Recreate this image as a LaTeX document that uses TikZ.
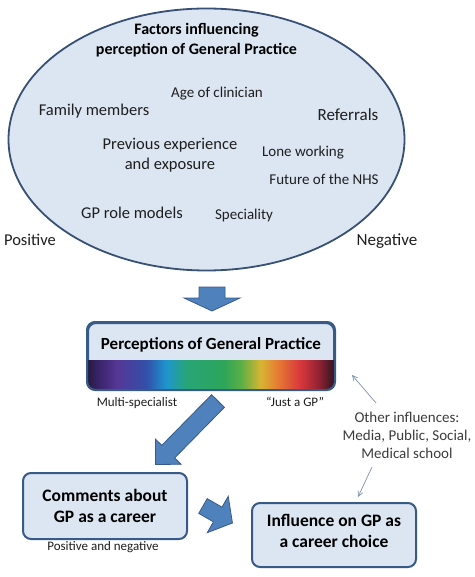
\documentclass[tikz,border=0pt]{standalone}
\usepackage{fontspec}
\setmainfont{Carlito}
\usetikzlibrary{arrows.meta,shapes.geometric}
\definecolor{fillblue}{RGB}{220,230,242}
\definecolor{edgeblue}{RGB}{56,90,135}
\definecolor{ellipseedge}{RGB}{55,80,115}
\definecolor{arrowblue}{RGB}{79,129,189}
\definecolor{txt}{RGB}{30,30,30}
\definecolor{thinline}{RGB}{125,145,175}
\definecolor{greytxt}{RGB}{60,60,60}
\pgfdeclarehorizontalshading{spectrum}{100bp}{%
  color(0bp)=(rgb,255:red,35;green,25;blue,60);
  color(25bp)=(rgb,255:red,35;green,25;blue,60);
  color(27bp)=(rgb,255:red,55;green,35;blue,100);
  color(31bp)=(rgb,255:red,85;green,55;blue,150);
  color(37bp)=(rgb,255:red,50;green,80;blue,170);
  color(41bp)=(rgb,255:red,30;green,150;blue,205);
  color(45bp)=(rgb,255:red,40;green,165;blue,120);
  color(52.5bp)=(rgb,255:red,45;green,165;blue,90);
  color(56bp)=(rgb,255:red,90;green,175;blue,70);
  color(60bp)=(rgb,255:red,215;green,180;blue,50);
  color(63bp)=(rgb,255:red,230;green,130;blue,50);
  color(68bp)=(rgb,255:red,215;green,55;blue,60);
  color(71.5bp)=(rgb,255:red,150;green,35;blue,50);
  color(75bp)=(rgb,255:red,45;green,20;blue,35);
  color(100bp)=(rgb,255:red,45;green,20;blue,35)}
\newcommand\sz[2]{\fontsize{#1}{#2}\selectfont}
\newcommand\blockarrow[6]{% tail, angle, length, shaft width, head width, head length
  \begin{scope}[shift={#1}, rotate=#2]
    \draw[barrow] (0,-#4/2) -- (#3-#6,-#4/2) -- (#3-#6,-#5/2) -- (#3,0)
      -- (#3-#6,#5/2) -- (#3-#6,#4/2) -- (0,#4/2) -- cycle;
  \end{scope}}
\tikzset{
  lbl/.style={inner sep=0pt, text=txt, text height=0.7em, text depth=0.1em},
  mlbl/.style={inner sep=0pt, text=txt, align=center},
  roundbox/.style={draw=edgeblue, line width=2pt, fill=fillblue, rounded corners=8pt, inner sep=0pt},
  barrow/.style={fill=arrowblue, draw=edgeblue, line width=0.8pt, line join=miter},
  thinarrow/.style={draw=thinline, line width=0.7pt, -{Straight Barb[length=5pt,width=5pt]}}
}
\begin{document}
\begin{tikzpicture}[x=1pt,y=-1pt]
\useasboundingbox (0,0) rectangle (474,577);
% ellipse
\node[ellipse, draw=ellipseedge, line width=1.8pt, fill=fillblue, minimum width=396, minimum height=262, inner sep=0pt] (factors) at (206.5,139.5) {};
\node[mlbl, text=black, font=\bfseries\sz{16}{20}] (ftitle) at (196.5,40) {Factors influencing\\perception of General Practice};
\node[lbl, font=\sz{15}{18}] (age) at (217,95) {Age of clinician};
\node[lbl, font=\sz{16.5}{20}] (family) at (94,113) {Family members};
\node[lbl, font=\sz{17}{20}] (referrals) at (348,118) {Referrals};
\node[mlbl, font=\sz{16.5}{20}] (previous) at (170,155) {Previous experience\\and exposure};
\node[lbl, font=\sz{15}{18}] (lone) at (303,154) {Lone working};
\node[lbl, font=\sz{15}{18}] (future) at (324,182) {Future of the NHS};
\node[lbl, font=\sz{16.5}{20}] (rolemodels) at (132,215) {GP role models};
\node[lbl, font=\sz{15}{18}] (speciality) at (244,216) {Speciality};
\node[lbl, font=\sz{16.5}{20}] (positive) at (30,242) {Positive};
\node[lbl, font=\sz{17}{20}] (negative) at (387,242) {Negative};
% top block arrow
\coordinate (a1tail) at (212,287);
\blockarrow{(a1tail)}{-90}{24}{26}{56}{13}
% perceptions box
\node[roundbox, minimum width=246, minimum height=66] (perc) at (211,356) {};
\begin{scope}
  \clip[rounded corners=8pt] (88,323) rectangle (334,389);
  \shade[shading=spectrum] (87,360) rectangle (335,390);
\end{scope}
\draw[draw=edgeblue, line width=2pt, rounded corners=8pt] (perc.north west) rectangle (perc.south east);
\node[lbl, text=black, font=\bfseries\sz{17}{20}] (ptitle) at (211,346) {Perceptions of General Practice};
\node[lbl, font=\sz{13}{16}] (multi) at (137,403) {Multi-specialist};
\node[lbl, font=\sz{13}{16}] (justgp) at (295,403) {“Just a GP”};
% diagonal block arrow
\coordinate (a2tail) at (218,401);
\blockarrow{(a2tail)}{-134.5}{89}{18}{36}{18}
% comments box
\node[roundbox, minimum width=164, minimum height=66, text=black, font=\bfseries\sz{17.5}{21}, align=center] (comments) at (105,506) {Comments about\\GP as a career};
\node[lbl, font=\sz{13}{16}] (posneg) at (103,547) {Positive and negative};
% small block arrow
\coordinate (a3tail) at (203,506);
\blockarrow{(a3tail)}{-30}{34}{17}{42}{17}
% influence box
\node[roundbox, minimum width=164, minimum height=64] (influence) at (334,535) {};
\node[mlbl, text=black, font=\bfseries\sz{17.5}{21}] (inftext) at (334,530.5) {Influence on GP as\\a career choice};
% other influences
\node[mlbl, text=greytxt, font=\sz{15}{18}] (other) at (407,435) {Other influences:\\Media, Public, Social,\\Medical school};
\coordinate (o1s) at (376,403);
\coordinate (o1e) at (352,375);
\coordinate (o2s) at (372,467);
\coordinate (o2e) at (358,497);
\draw[thinarrow] (o1s) -- (o1e);
\draw[thinarrow] (o2s) -- (o2e);
\end{tikzpicture}
\end{document}
